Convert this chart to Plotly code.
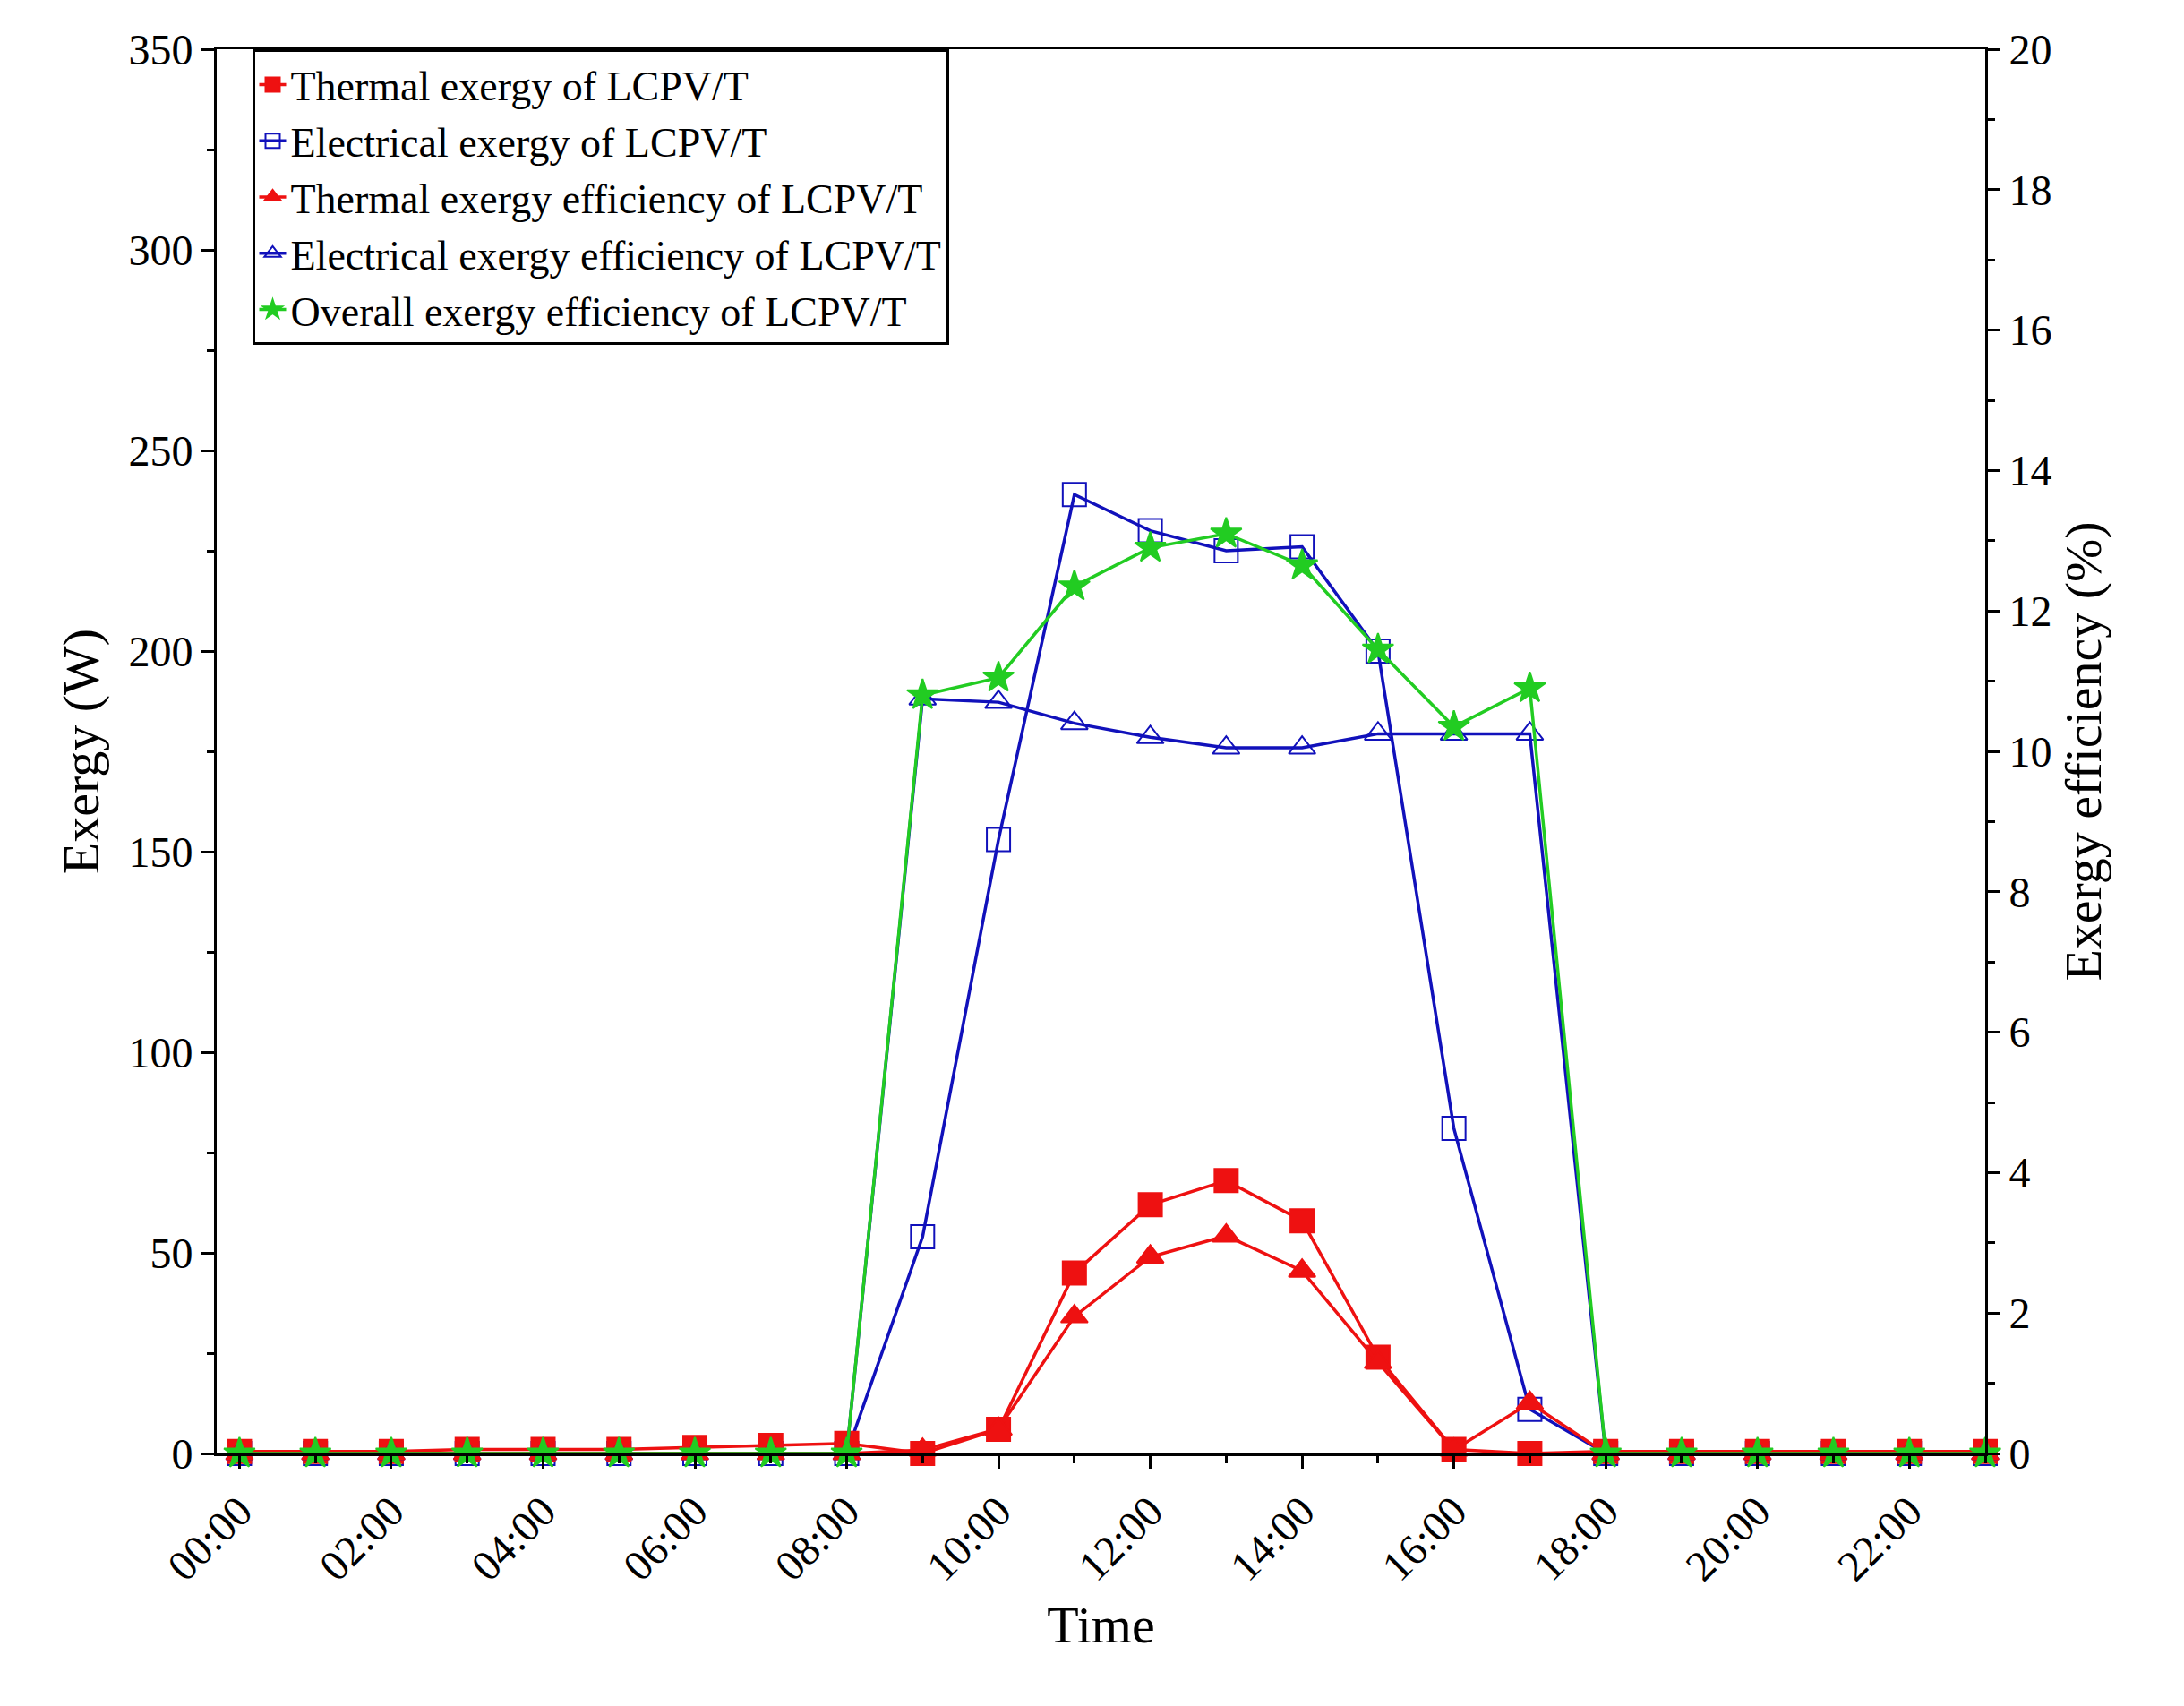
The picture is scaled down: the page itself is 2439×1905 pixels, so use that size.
import plotly.graph_objects as go

hours = list(range(24))
thermal_exergy = [0.5, 0.5, 0.5, 1, 1, 1, 1.5, 2, 2.5, 0, 6, 45, 62, 68, 58, 24, 1, 0, 0.5, 0.5, 0.5, 0.5, 0.5, 0.5]
electrical_exergy = [0, 0, 0, 0, 0, 0, 0, 0, 0, 54, 153, 239, 230, 225, 226, 200, 81, 11, 0, 0, 0, 0, 0, 0]
thermal_eff = [0, 0, 0, 0, 0, 0, 0, 0, 0, 0.05, 0.35, 1.95, 2.8, 3.1, 2.6, 1.3, 0.05, 0.72, 0, 0, 0, 0, 0, 0]
electrical_eff = [0, 0, 0, 0, 0, 0, 0, 0, 0, 10.75, 10.7, 10.4, 10.2, 10.05, 10.05, 10.25, 10.25, 10.25, 0, 0, 0, 0, 0, 0]
overall_eff = [0, 0, 0, 0, 0, 0, 0, 0, 0, 10.8, 11.05, 12.35, 12.9, 13.1, 12.65, 11.45, 10.35, 10.9, 0, 0, 0, 0, 0, 0]
tick_hours = list(range(0, 24, 2))
tick_labels = ["%02d:00" % h for h in tick_hours]

RED = "#ee1111"
BLUE = "#1111bb"
GREEN = "#22cc22"

fig = go.Figure()
def add(y, name, color, symbol, axis, rank):
    fig.add_trace(go.Scatter(
        x=hours, y=y, name=name, mode="lines+markers", yaxis=axis, cliponaxis=False,
        legendrank=rank,
        line=dict(color=color, width=3.5),
        marker=dict(symbol=symbol, size=26, color=color, line=dict(color=color, width=2)),
    ))

add(electrical_eff, "Electrical exergy efficiency of LCPV/T", BLUE, "triangle-up-open", "y2", 4)
add(thermal_eff, "Thermal exergy efficiency of LCPV/T", RED, "triangle-up", "y2", 3)
add(overall_eff, "Overall exergy efficiency of LCPV/T", GREEN, "star", "y2", 5)
add(electrical_exergy, "Electrical exergy of LCPV/T", BLUE, "square-open", "y", 2)
add(thermal_exergy, "Thermal exergy of LCPV/T", RED, "square", "y", 1)

axis_common = dict(showline=True, linecolor="black", linewidth=3, ticks="outside",
                   ticklen=14, tickwidth=3, tickcolor="black", showgrid=False, zeroline=False)

fig.update_layout(
    width=2439, height=1905,
    plot_bgcolor="white", paper_bgcolor="white",
    font=dict(family="Liberation Serif", size=48, color="black"),
    margin=dict(l=234, r=230, t=47, b=290),
    showlegend=True,
    legend=dict(x=0.02, y=1.0, xanchor="left", yanchor="top",
                bordercolor="black", borderwidth=3, bgcolor="white",
                font=dict(size=46), tracegroupgap=0),
    xaxis=dict(range=[-0.3, 23], tickvals=tick_hours, ticktext=tick_labels, tickangle=-45,
               title=dict(text="Time", standoff=20), mirror=True,
               minor=dict(dtick=1, tick0=0, ticks="outside", ticklen=8, tickwidth=3, tickcolor="black"),
               **axis_common),
    yaxis=dict(range=[0, 350], dtick=50, title=dict(text="Exergy (W)"),
               minor=dict(dtick=25, ticks="outside", ticklen=8, tickwidth=3, tickcolor="black"),
               **axis_common),
    yaxis2=dict(range=[0, 20], dtick=2, overlaying="y", side="right",
                title=dict(text="Exergy efficiency (%)"),
                minor=dict(dtick=1, ticks="outside", ticklen=8, tickwidth=3, tickcolor="black"),
                **axis_common),
)

fig.write_html("out.html")
